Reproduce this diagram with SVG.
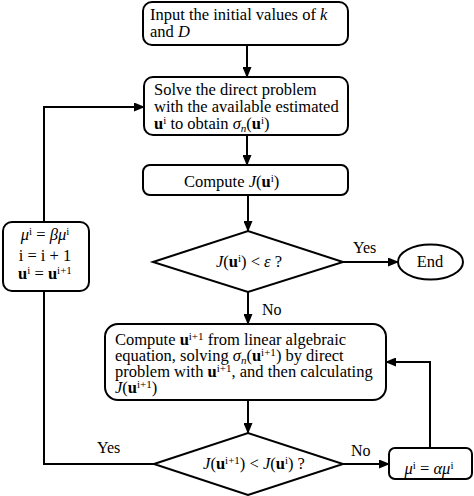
<svg xmlns="http://www.w3.org/2000/svg" width="474" height="496" viewBox="0 0 474 496" font-family="Liberation Serif, Times New Roman, serif">
<defs>
<marker id="ah" markerWidth="11" markerHeight="9" refX="10" refY="4.5" orient="auto" markerUnits="userSpaceOnUse">
<path d="M0,0 L11,4.5 L0,9 z" fill="#000"/>
</marker>
</defs>
<rect width="474" height="496" fill="#fff"/>
<g id="connectors" fill="none" stroke="#000" stroke-width="2">
<path d="M247,45 V77" marker-end="url(#ah)"/>
<path d="M247,135 V165" marker-end="url(#ah)"/>
<path d="M248,195 V231" marker-end="url(#ah)"/>
<path d="M343,262 H398" marker-end="url(#ah)"/>
<path d="M248,292 V324" marker-end="url(#ah)"/>
<path d="M248,400 V433" marker-end="url(#ah)"/>
<path d="M343,464 H389" marker-end="url(#ah)"/>
<path d="M430,448 V362 H386" marker-end="url(#ah)"/>
<path d="M154,464 H44 V291"/>
<path d="M44,222 V107 H144" marker-end="url(#ah)"/>
</g>
<g id="labels" font-family="Liberation Serif, serif" font-size="16">
<text x="353" y="253">Yes</text>
<text x="262" y="315">No</text>
<text x="351" y="456">No</text>
<text x="97" y="453">Yes</text>
</g>
<g id="start" font-family="Liberation Serif, serif" font-size="16.5">
<rect fill="#fff" stroke="#000" stroke-width="2" x="143" y="2" width="205" height="43" rx="9"/>
<text x="150" y="20">Input the initial values of <tspan font-style="italic">k</tspan></text>
<text x="150" y="37">and <tspan font-style="italic">D</tspan></text>
</g>
<g id="solve" font-family="Liberation Serif, serif" font-size="16.5">
<rect fill="#fff" stroke="#000" stroke-width="2" x="144" y="77" width="204" height="58" rx="9"/>
<text x="154" y="95">Solve the direct problem</text>
<text x="154" y="112">with the available estimated</text>
<text x="154" y="129"><tspan font-weight="bold">u</tspan><tspan font-size="11" dy="-5">i</tspan><tspan dy="5"> to obtain </tspan><tspan font-style="italic">σ</tspan><tspan font-style="italic" font-size="11" dy="3">n</tspan><tspan dy="-3">(</tspan><tspan font-weight="bold">u</tspan><tspan font-size="11" dy="-5">i</tspan><tspan dy="5">)</tspan></text>
</g>
<g id="computeJ" font-family="Liberation Serif, serif" font-size="16.5">
<rect fill="#fff" stroke="#000" stroke-width="2" x="143" y="165" width="205" height="30" rx="7"/>
<text x="184" y="187">Compute <tspan font-style="italic">J</tspan>(<tspan font-weight="bold">u</tspan><tspan font-size="11" dy="-5">i</tspan><tspan dy="5">)</tspan></text>
</g>
<g id="decision1" font-family="Liberation Serif, serif" font-size="16.5">
<polygon fill="#fff" stroke="#000" stroke-width="2" points="153,262 248,231 343,262 248,292"/>
<text text-anchor="middle" x="249" y="267"><tspan font-style="italic">J</tspan>(<tspan font-weight="bold">u</tspan><tspan font-size="11" dy="-5">i</tspan><tspan dy="5">) &lt; </tspan><tspan font-style="italic">ε</tspan> ?</text>
</g>
<g id="end" font-family="Liberation Serif, serif" font-size="16.5">
<ellipse fill="#fff" stroke="#000" stroke-width="2" cx="430.5" cy="262" rx="32.5" ry="17.5"/>
<text text-anchor="middle" x="430" y="267">End</text>
</g>
<g id="computeU" font-family="Liberation Serif, serif" font-size="16.5">
<rect fill="#fff" stroke="#000" stroke-width="2" x="105" y="324" width="281" height="76" rx="13"/>
<text x="115" y="345">Compute <tspan font-weight="bold">u</tspan><tspan font-size="11" dy="-5">i+1</tspan><tspan dy="5"> from linear algebraic</tspan></text>
<text x="115" y="361">equation, solving <tspan font-style="italic">σ</tspan><tspan font-style="italic" font-size="11" dy="3">n</tspan><tspan dy="-3">(</tspan><tspan font-weight="bold">u</tspan><tspan font-size="11" dy="-5">i+1</tspan><tspan dy="5">) by direct</tspan></text>
<text x="115" y="377">problem with <tspan font-weight="bold">u</tspan><tspan font-size="11" dy="-5">i+1</tspan><tspan dy="5">, and then calculating</tspan></text>
<text x="115" y="393"><tspan font-style="italic">J</tspan>(<tspan font-weight="bold">u</tspan><tspan font-size="11" dy="-5">i+1</tspan><tspan dy="5">)</tspan></text>
</g>
<g id="decision2" font-family="Liberation Serif, serif" font-size="16.5">
<polygon fill="#fff" stroke="#000" stroke-width="2" points="154,464 248,433 343,464 248,495"/>
<text text-anchor="middle" x="254" y="469"><tspan font-style="italic">J</tspan>(<tspan font-weight="bold">u</tspan><tspan font-size="11" dy="-5">i+1</tspan><tspan dy="5">) &lt; </tspan><tspan font-style="italic">J</tspan>(<tspan font-weight="bold">u</tspan><tspan font-size="11" dy="-5">i</tspan><tspan dy="5">) ?</tspan></text>
</g>
<g id="alpha" font-family="Liberation Serif, serif" font-size="16.5">
<rect fill="#fff" stroke="#000" stroke-width="2" x="389" y="448" width="83" height="31" rx="6"/>
<text text-anchor="middle" x="429" y="474"><tspan font-style="italic">μ</tspan><tspan font-size="11" dy="-5">i</tspan><tspan dy="5"> = </tspan><tspan font-style="italic">αμ</tspan><tspan font-size="11" dy="-5">i</tspan></text>
</g>
<g id="update" font-family="Liberation Serif, serif" font-size="16.5">
<rect fill="#fff" stroke="#000" stroke-width="2" x="3" y="222" width="86" height="69" rx="9"/>
<text text-anchor="middle" x="45" y="240"><tspan font-style="italic">μ</tspan><tspan font-size="11" dy="-5">i</tspan><tspan dy="5"> = </tspan><tspan font-style="italic">βμ</tspan><tspan font-size="11" dy="-5">i</tspan></text>
<text text-anchor="middle" x="45" y="261">i = i + 1</text>
<text text-anchor="middle" x="45" y="279"><tspan font-weight="bold">u</tspan><tspan font-size="11" dy="-5">i</tspan><tspan dy="5"> = </tspan><tspan font-weight="bold">u</tspan><tspan font-size="11" dy="-5">i+1</tspan></text>
</g>
</svg>
